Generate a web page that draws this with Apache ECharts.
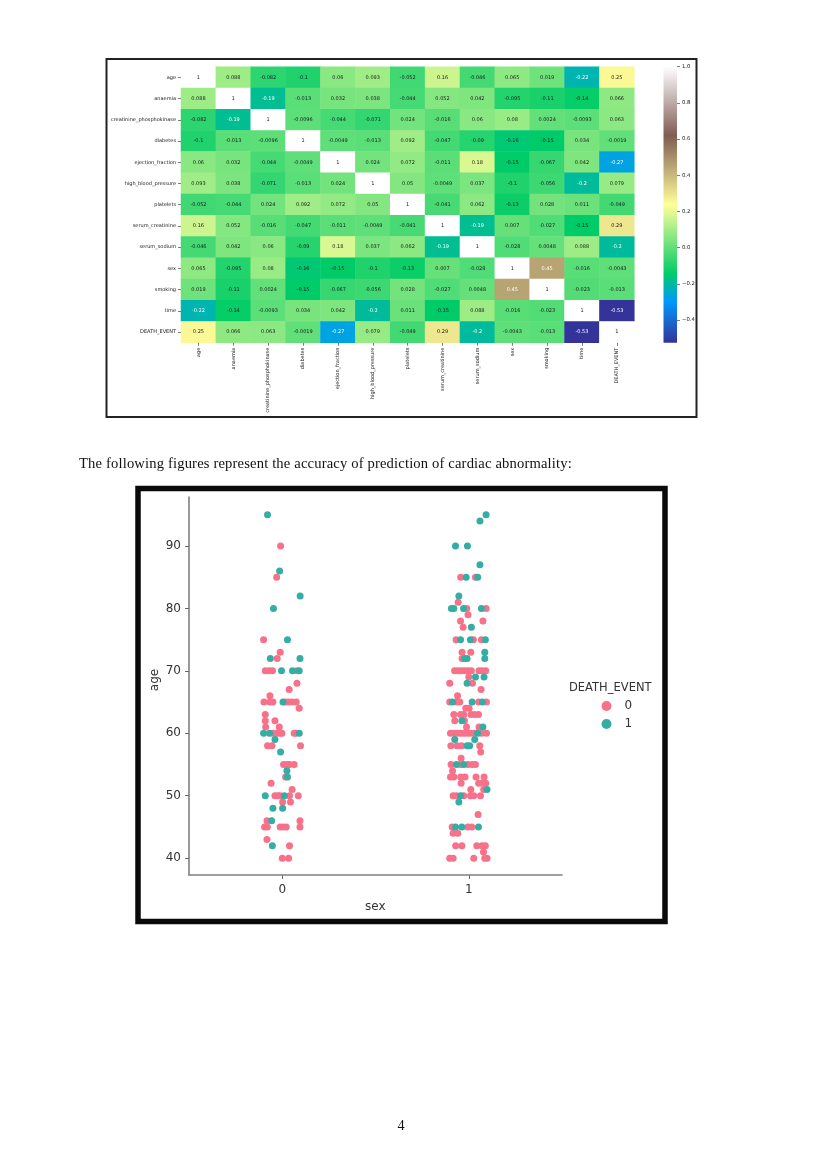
<!DOCTYPE html>
<html><head><meta charset="utf-8">
<script src="https://cdn.jsdelivr.net/npm/echarts@6/dist/echarts.min.js"></script>
<style>
html,body{margin:0;padding:0;background:#fff;width:827px;height:1169px;overflow:hidden}
#chart{position:absolute;left:0;top:0;width:827px;height:1169px;filter:blur(0.5px)}
.t{position:absolute;font-family:"Liberation Serif","DejaVu Serif",serif;color:#111;white-space:nowrap}
</style></head><body>
<div id="chart"></div>
<div class="t" id="cap" style="left:79px;top:454.5px;font-size:14.6px;letter-spacing:0.16px">The following figures represent the accuracy of prediction of cardiac abnormality:</div>
<div class="t" style="left:397.5px;top:1117px;font-size:14.2px">4</div>
<script>
const features = ['age','anaemia','creatinine_phosphokinase','diabetes','ejection_fraction','high_blood_pressure','platelets','serum_creatinine','serum_sodium','sex','smoking','time','DEATH_EVENT'];
const corr = [
[1,0.088,-0.082,-0.1,0.06,0.093,-0.052,0.16,-0.046,0.065,0.019,-0.22,0.25],
[0.088,1,-0.19,-0.013,0.032,0.038,-0.044,0.052,0.042,-0.095,-0.11,-0.14,0.066],
[-0.082,-0.19,1,-0.0096,-0.044,-0.071,0.024,-0.016,0.06,0.08,0.0024,-0.0093,0.063],
[-0.1,-0.013,-0.0096,1,-0.0049,-0.013,0.092,-0.047,-0.09,-0.16,-0.15,0.034,-0.0019],
[0.06,0.032,-0.044,-0.0049,1,0.024,0.072,-0.011,0.18,-0.15,-0.067,0.042,-0.27],
[0.093,0.038,-0.071,-0.013,0.024,1,0.05,-0.0049,0.037,-0.1,-0.056,-0.2,0.079],
[-0.052,-0.044,0.024,0.092,0.072,0.05,1,-0.041,0.062,-0.13,0.028,0.011,-0.049],
[0.16,0.052,-0.016,-0.047,-0.011,-0.0049,-0.041,1,-0.19,0.007,-0.027,-0.15,0.29],
[-0.046,0.042,0.06,-0.09,0.18,0.037,0.062,-0.19,1,-0.028,0.0048,0.088,-0.2],
[0.065,-0.095,0.08,-0.16,-0.15,-0.1,-0.13,0.007,-0.028,1,0.45,-0.016,-0.0043],
[0.019,-0.11,0.0024,-0.15,-0.067,-0.056,0.028,-0.027,0.0048,0.45,1,-0.023,-0.013],
[-0.22,-0.14,-0.0093,0.034,0.042,-0.2,0.011,-0.15,0.088,-0.016,-0.023,1,-0.53],
[0.25,0.066,0.063,-0.0019,-0.27,0.079,-0.049,0.29,-0.2,-0.0043,-0.013,-0.53,1]
];
const terrainColors = ['#333399','#2255bb','#1177dd','#0099ff','#00b3b3','#00cc66','#33d670','#66e07a','#99eb85','#ccf58f','#ffff99','#e6de8b','#ccbe7d','#b39d70','#997c62','#805c54','#997c76','#b39d98','#ccbebb','#e6dedd','#ffffff'];
const colorbarTicks = [-0.4,-0.2,0,0.2,0.4,0.6,0.8,1];

// swarm points: [age, horizontal position on the sex axis...]
const sex0Alive = [[90,-0.009],[85,-0.030],[75,-0.100],[73,-0.011],[72,-0.027],[70,-0.091,-0.070,-0.052,0.079],[68,0.079],[67,0.037],[66,-0.066],[65,-0.098,-0.066,-0.050,0.016,0.034,0.052,0.075],[64,0.091],[63,-0.091],[62,-0.091,-0.039],[61,-0.089,-0.016],[60,-0.050,-0.028,-0.011,-0.002,0.064,0.073],[58,-0.079,-0.055,0.098],[55,0.007,0.025,0.039,0.064],[53,0.018],[52,-0.060],[51,0.053],[50,-0.039,-0.023,-0.011,0.039,0.086],[49,0.002,0.044],[46,-0.082,0.095],[45,-0.095,-0.080,-0.011,0.004,0.021,0.095],[43,-0.082],[42,0.039],[40,0,0.034]];
const sex0Dead = [[95,-0.079],[86,-0.014],[82,0.096],[80,-0.047],[75,0.028],[72,-0.064,0.095],[70,-0.004,0.055,0.091],[65,0.004],[60,-0.100,-0.068,0.091],[59,-0.039],[57,-0.009],[54,0.025],[53,0.028],[50,-0.091,0.011],[48,-0.050,0.002],[46,-0.057],[42,-0.053]];
const sex1Alive = [[85,0.957,1.036],[81,0.943],[80,0.989,1.093],[79,0.996],[78,0.956,1.076],[77,0.970],[75,0.932,1.025,1.068],[73,0.964,1.011],[72,0.964],[70,0.924,0.941,0.959,0.977,0.996,1.014,1.055,1.073,1.091],[69,1.0],[68,0.898,1.020],[67,1.066],[66,0.940],[65,0.898,0.934,0.952,1.053,1.095],[64,0.984,1.002],[63,0.920,0.956,0.973,1.012,1.030,1.052],[62,0.925,0.977],[61,0.988,1.055],[60,0.902,0.920,0.937,0.956,0.973,0.991,1.009,1.028,1.068,1.095],[58,0.904,0.937,0.961,1.059],[57,1.064],[56,0.959],[55,0.905,0.956,0.996,1.018,1.036],[54,0.913],[53,0.902,0.920,0.957,0.980,1.039,1.082],[52,0.959,1.053,1.073,1.091],[51,1.011,1.080],[50,0.916,0.934,0.973,1.009,1.027,1.063],[47,1.050],[45,0.911,0.995,1.016],[44,0.916,0.941],[42,0.930,0.963,1.043,1.071,1.089],[41,1.079],[40,0.898,0.916,1.027,1.086,1.098]];
const sex1Dead = [[95,1.093],[94,1.060],[90,0.929,0.993],[87,1.060],[85,0.986,1.048],[82,0.947],[80,0.907,0.920,0.972,1.068],[77,1.014],[75,0.956,1.009,1.089],[73,1.086],[72,0.979,0.991,1.086],[69,1.036,1.082],[68,0.991],[65,0.913,1.018,1.073],[62,0.963],[61,1.076],[60,1.047],[59,0.925,1.032],[58,0.991,1.005],[55,0.934,0.973],[51,1.098],[50,0.956],[49,0.947],[45,0.929,0.963,1.052]];
const ageTicks = [40,50,60,70,80,90];
const sexTicks = [0,1];

const expand = rows => rows.flatMap(r => r.slice(1).map(x => [x, r[0]]));
const heatData = [];
corr.forEach((row,i) => row.forEach((v,j) => heatData.push({
  value:[j,i,v],
  label:{color:(v<=-0.19||(v>=0.45&&v<1))?'#ffffff':'#1a1a1a'}
})));
const barGradient = new echarts.graphic.LinearGradient(0,1,0,0,
  terrainColors.map((color,i)=>({offset:i/(terrainColors.length-1),color})));

const sans = '"DejaVu Sans",sans-serif';
const chart = echarts.init(document.getElementById('chart'), null, {renderer:'canvas'});
chart.setOption({
  animation:false,
  backgroundColor:'#fff',
  textStyle:{fontFamily:sans},
  grid:[
    {left:181,top:66.7,width:453.3,height:276},
    {left:663.5,top:66.7,width:13.5,height:276,show:true,backgroundColor:barGradient,borderWidth:0},
    {left:189,top:497,width:373,height:378}
  ],
  xAxis:[
    {gridIndex:0,type:'category',data:features,position:'bottom',
      axisLine:{show:false},axisTick:{show:true,length:3,alignWithLabel:true,lineStyle:{color:'#222',width:0.6}},
      splitArea:{show:false},
      axisLabel:{rotate:90,interval:0,fontSize:5,color:'#1a1a1a',margin:5}},
    {gridIndex:1,type:'value',min:0,max:1,show:false},
    {gridIndex:2,type:'value',min:-0.5,max:1.5,
      axisLine:{onZero:false,lineStyle:{color:'#808080',width:1.6}},
      axisTick:{customValues:sexTicks,length:4,lineStyle:{color:'#666',width:1}},
      splitLine:{show:false},
      axisLabel:{customValues:sexTicks,fontSize:12,color:'#333',margin:9}}
  ],
  yAxis:[
    {gridIndex:0,type:'category',data:features,inverse:true,
      axisLine:{show:false},axisTick:{show:true,length:3,alignWithLabel:true,lineStyle:{color:'#222',width:0.6}},
      splitArea:{show:false},
      axisLabel:{interval:0,fontSize:5,color:'#1a1a1a',margin:5}},
    {gridIndex:1,type:'value',position:'right',min:-0.525,max:1,
      axisLine:{show:false,onZero:false},
      axisTick:{show:true,customValues:colorbarTicks,length:3,lineStyle:{color:'#222',width:0.6}},
      splitLine:{show:false},
      axisLabel:{customValues:colorbarTicks,fontSize:5.3,color:'#1a1a1a',margin:5,
        formatter:v=>(v<0?'\u2212':'')+Math.abs(v).toFixed(1)}},
    {gridIndex:2,type:'value',min:37.3,max:97.85,
      axisLine:{show:true,onZero:false,lineStyle:{color:'#808080',width:1.6}},
      axisTick:{show:true,customValues:ageTicks,length:4,lineStyle:{color:'#666',width:1}},
      splitLine:{show:false},
      axisLabel:{customValues:ageTicks,fontSize:12,color:'#333',margin:8}}
  ],
  visualMap:[{
    type:'continuous',seriesIndex:0,min:-0.53,max:1,dimension:2,show:false,
    inRange:{color:terrainColors}
  }],
  legend:{
    left:596.5,top:695,orient:'vertical',itemWidth:10,itemHeight:10,itemGap:6,
    icon:'circle',
    data:['0','1'],
    textStyle:{fontFamily:sans,fontSize:12,color:'#333',padding:[0,0,0,8]},
    selectedMode:false
  },
  graphic:[
    {type:'rect',silent:true,shape:{x:106.5,y:59,width:590,height:358},style:{fill:'none',stroke:'#222',lineWidth:2}},
    {type:'rect',silent:true,shape:{x:138,y:488.5,width:527,height:433},style:{fill:'none',stroke:'#0a0a0a',lineWidth:5.5}},
    {type:'text',silent:true,left:569,top:682.5,style:{text:'DEATH_EVENT',font:'11.5px "DejaVu Sans"',fill:'#333'}},
    {type:'text',silent:true,left:365,top:900.5,style:{text:'sex',font:'12px "DejaVu Sans"',fill:'#333'}},
    {type:'text',silent:true,x:155,y:680,rotation:Math.PI/2,style:{text:'age',font:'12px "DejaVu Sans"',fill:'#333',align:'center',verticalAlign:'middle'}}
  ],
  series:[
    {type:'heatmap',xAxisIndex:0,yAxisIndex:0,data:heatData,
      label:{show:true,fontSize:5,formatter:p=>String(p.value[2])},
      itemStyle:{borderWidth:0},
      emphasis:{disabled:true}},
    {name:'0',type:'scatter',xAxisIndex:2,yAxisIndex:2,symbolSize:7,
      data:expand(sex0Alive).concat(expand(sex1Alive)),
      itemStyle:{color:'#f77189',opacity:1}},
    {name:'1',type:'scatter',xAxisIndex:2,yAxisIndex:2,symbolSize:7,
      data:expand(sex0Dead).concat(expand(sex1Dead)),
      itemStyle:{color:'#36ada4',opacity:1}}
  ]
});
</script>
</body></html>
